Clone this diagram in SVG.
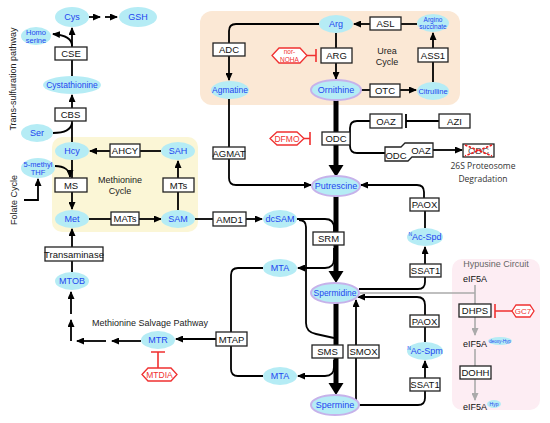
<svg xmlns="http://www.w3.org/2000/svg" width="550" height="423" viewBox="0 0 550 423">
<style>
text{font-family:"Liberation Sans",Arial,sans-serif;}
.bg{stroke:none}
.n ellipse{fill:#b5ecf5;stroke:none}
.n.p ellipse{stroke:#c6b2ea;stroke-width:2}
.n text{fill:#1f46f0;font-size:9px;text-anchor:middle;dominant-baseline:central}
.b rect{fill:#fff;stroke:#222;stroke-width:1.3}
.b text{fill:#111;font-size:9.5px;text-anchor:middle;dominant-baseline:central}
.c path{fill:none;stroke:#000;stroke-width:1.8}
.c path.a{marker-end:url(#ah)}
.c path.g{stroke:#aaa;stroke-width:1.6}
.c path.ga{stroke:#aaa;stroke-width:1.6;marker-end:url(#gh)}
.c path.t{stroke-width:5}
.c polygon{fill:#000}
.c path.r{stroke:#f03030;stroke-width:1.6}
.inh polygon{fill:#fff;stroke:#f03030;stroke-width:1.3}
.inh text{fill:#f03030;text-anchor:middle;dominant-baseline:central}
.lbl{fill:#222;font-size:9px}
</style>
<defs>
<marker id="ah" markerUnits="userSpaceOnUse" markerWidth="8" markerHeight="7" refX="7" refY="3.5" orient="auto"><path d="M0,0 L8,3.5 L0,7 z" fill="#000"/></marker>
<marker id="gh" markerUnits="userSpaceOnUse" markerWidth="8" markerHeight="7" refX="7" refY="3.5" orient="auto"><path d="M0,0 L8,3.5 L0,7 z" fill="#aaa"/></marker>
</defs>

<!-- backgrounds -->
<rect class="bg" x="200" y="11" width="260" height="94" rx="12" fill="#fbe8d5"/>
<rect class="bg" x="52" y="137" width="146" height="95" rx="10" fill="#fbf6d6"/>
<rect class="bg" x="452" y="259" width="88" height="151" rx="10" fill="#fdedf3"/>

<text class="lbl" x="387" y="54" text-anchor="middle" font-size="10">Urea</text>
<text class="lbl" x="387" y="65" text-anchor="middle" font-size="10">Cycle</text>
<text class="lbl" x="120" y="183" text-anchor="middle" font-size="9.5">Methionine</text>
<text class="lbl" x="120" y="194" text-anchor="middle" font-size="9.5">Cycle</text>
<text class="lbl" transform="translate(17,200) rotate(-90)" text-anchor="middle" font-size="9.5">Folate Cycle</text>
<text class="lbl" transform="translate(16,79) rotate(-90)" text-anchor="middle" font-size="9">Trans-sulfuration pathway</text>
<text class="lbl" x="92" y="326">Methionine Salvage Pathway</text>
<text class="lbl" x="496" y="267" text-anchor="middle" style="fill:#666">Hypusine Circuit</text>
<text x="483" y="169" text-anchor="middle" font-size="8.5" fill="#333" style="font-family:'Open Sans','Liberation Sans',sans-serif">26S Proteosome</text>
<text x="483" y="182" text-anchor="middle" font-size="8.5" fill="#333" style="font-family:'Open Sans','Liberation Sans',sans-serif">Degradation</text>

<!-- connectors -->
<g class="c" id="connectors">
<path class="a" d="M72,47 L72,28"/>
<path class="a" d="M72,46 C72,39 66,35 53,34"/>
<path d="M72,76 L72,59"/>
<path class="a" d="M72,108 L72,95"/>
<path d="M72,142 L72,121"/>
<path d="M53,133 C63,133 71,130 72,123"/>
<path class="a" d="M89,17 L100,17"/>
<path class="a" d="M105,17 L117,17"/>
<path d="M161,151 L140,151"/>
<path class="a" d="M110,151 L90,151"/>
<path d="M72,160 L72,178"/>
<path class="a" d="M55,166 C64,166 70,170 70,177"/>
<path class="a" d="M72,192 L72,209"/>
<path d="M89,219 L111,219"/>
<path class="a" d="M139,219 L161,219"/>
<path d="M178,210 L178,192"/>
<path class="a" d="M178,178 L178,161"/>
<path class="a" d="M24,200 L38,200 L38,179"/>
<path class="a" d="M72,247 L72,229"/>
<path d="M72,272 L72,261"/>
<path class="a" d="M71,341 L71,320"/>
<path class="a" d="M71,314 L71,292"/>
<path class="a" d="M141,341 L112,341"/>
<path class="a" d="M106,341 L77,341"/>
<path class="a" d="M216,339 L176,339"/>
<path class="r" d="M158,368 L158,352 M151,352 L165,352"/>
<path d="M263,268 L238,268 Q231,268 231,275 L231,332"/>
<path d="M231,346 L231,369 Q231,376 238,376 L263,376"/>
<path d="M195,219 L213,219"/>
<path class="a" d="M246,219 L262,219"/>
<!-- urea -->
<path d="M319,24 L236,24 Q229,24 229,31 L229,43"/>
<path class="a" d="M229,56 L229,80"/>
<path d="M229,99 L229,147"/>
<path class="a" d="M229,159 L229,178 Q229,185 236,185 L311,185"/>
<path d="M336,33 L336,48"/>
<path class="a" d="M336,63 L336,79"/>
<path class="a" d="M370,24 L354,24"/>
<path d="M417,24 L401,24"/>
<path d="M433,82 L433,62"/>
<path class="a" d="M433,48 L433,33"/>
<path d="M361,90 L370,90"/>
<path class="a" d="M400,90 L416,90"/>
<path class="r" d="M307,55.5 L316,55.5 M316,49 L316,62"/>
<path class="r" d="M304,138.5 L310,138.5 M310,132 L310,145"/>
<path d="M370,121 L357,121 Q350,121 350,128 L350,146 Q350,153 357,153 L386,153"/>
<path d="M439,121 L406,121 M406,114 L406,128"/>
<path class="a" d="M433,150 L462,150"/>
<!-- polyamines -->
<path class="t" d="M336,100 L336,167"/>
<polygon points="328.5,165 343.5,165 336,177"/>
<path class="t" d="M336,196 L336,273"/>
<polygon points="328.5,271 343.5,271 336,283"/>
<path class="t" d="M336,303 L336,385"/>
<polygon points="328.5,383 343.5,383 336,395"/>
<path class="a" d="M424,198 L424,192 Q424,185 417,185 L361,185"/>
<path d="M425,228 L425,211"/>
<path class="a" d="M425,264 L425,247"/>
<path d="M359,289 L418,289 Q425,289 425,282 L425,277"/>
<path d="M297,219 L325,219 Q334,219 334,228 L334,234"/>
<path class="a" d="M334,248 L334,259 Q334,268 325,268 L298,268"/>
<path d="M299,220 Q306,220 306,227 L306,323 Q306,332 316,334 L334,338"/>
<path class="a" d="M334,360 L334,367 Q334,376 325,376 L298,376"/>
<path class="a" d="M356,400 L356,300"/>
<path class="g" d="M360,293 L475,293"/>
<path class="a" d="M425,315 L425,305 Q425,297 417,297 L358,297"/>
<path d="M425,342 L425,327"/>
<path class="a" d="M425,378 L425,361"/>
<path d="M359,405 L418,405 Q425,405 425,398 L425,391"/>
<!-- hypusine -->
<path class="g" d="M475,285 L475,304"/>
<path class="ga" d="M475,317 L475,335"/>
<path class="g" d="M475,349 L475,366"/>
<path class="ga" d="M475,379 L475,400"/>
<path class="r" d="M495,311 L512,311 M495,304 L495,318"/>
</g>

<!-- nodes -->
<g class="n" id="cys"><ellipse cx="72" cy="17" rx="17" ry="10"/><text x="72" y="17">Cys</text></g>
<g class="n" id="gsh"><ellipse cx="138" cy="17" rx="19" ry="10"/><text x="138" y="17">GSH</text></g>
<g class="n" id="homoserine"><ellipse cx="36" cy="36" rx="15" ry="9"/><text x="36" y="32" style="font-size:7.5px">Homo</text><text x="36" y="40" style="font-size:7.5px">serine</text></g>
<g class="b" id="cse"><rect x="55" y="47" width="32" height="13"/><text x="71" y="53.5">CSE</text></g>
<g class="n" id="cystathionine"><ellipse cx="72" cy="85" rx="29" ry="9"/><text x="72" y="85" style="font-size:8.5px">Cystathionine</text></g>
<g class="b" id="cbs"><rect x="55" y="108" width="31" height="13"/><text x="70.5" y="114.5">CBS</text></g>
<g class="n" id="ser"><ellipse cx="37" cy="133" rx="16" ry="9"/><text x="37" y="133">Ser</text></g>
<g class="n" id="hcy"><ellipse cx="72" cy="151" rx="17" ry="9"/><text x="72" y="151">Hcy</text></g>
<g class="b" id="ahcy"><rect x="110" y="144" width="30" height="13"/><text x="125" y="150.5">AHCY</text></g>
<g class="n" id="sah"><ellipse cx="178" cy="151" rx="17" ry="9"/><text x="178" y="151">SAH</text></g>
<g class="n" id="mthf"><ellipse cx="38" cy="168" rx="17" ry="10"/><text x="38" y="164" style="font-size:7.5px">5-methyl</text><text x="38" y="172.5" style="font-size:7.5px">THF</text></g>
<g class="b" id="ms"><rect x="55" y="178" width="32" height="14"/><text x="71" y="185">MS</text></g>
<g class="b" id="mts"><rect x="163" y="178" width="31" height="14"/><text x="178.5" y="185">MTs</text></g>
<g class="n" id="met"><ellipse cx="72" cy="219" rx="17" ry="9"/><text x="72" y="219">Met</text></g>
<g class="b" id="mats"><rect x="111" y="212" width="28" height="13"/><text x="125" y="218.5">MATs</text></g>
<g class="n" id="sam"><ellipse cx="178" cy="219" rx="17" ry="9"/><text x="178" y="219">SAM</text></g>
<g class="b" id="transaminase"><rect x="45" y="247" width="58" height="14"/><text x="74" y="254">Transaminase</text></g>
<g class="n" id="mtob"><ellipse cx="72" cy="281" rx="17" ry="9"/><text x="72" y="281">MTOB</text></g>
<g class="n" id="mtr"><ellipse cx="158" cy="340" rx="17" ry="9"/><text x="158" y="340">MTR</text></g>
<g class="inh" id="mtdia"><polygon points="142,374.5 148,368 171,368 177,374.5 171,381 148,381"/><text x="159.5" y="374.5" font-size="8.5">MTDIA</text></g>
<g class="b" id="mtap"><rect x="216" y="332" width="31" height="14"/><text x="231.5" y="339">MTAP</text></g>
<g class="n" id="mta1"><ellipse cx="280" cy="268" rx="17" ry="9"/><text x="280" y="268">MTA</text></g>
<g class="n" id="mta2"><ellipse cx="280" cy="376" rx="17" ry="9"/><text x="280" y="376">MTA</text></g>
<g class="b" id="amd1"><rect x="213" y="212" width="33" height="14"/><text x="229.5" y="219">AMD1</text></g>
<g class="n" id="dcsam"><ellipse cx="280" cy="219" rx="17" ry="9"/><text x="280" y="219">dcSAM</text></g>

<g class="n" id="arg"><ellipse cx="336" cy="24" rx="17" ry="9"/><text x="336" y="24">Arg</text></g>
<g class="b" id="asl"><rect x="370" y="17" width="31" height="13"/><text x="385.5" y="23.5">ASL</text></g>
<g class="n" id="argsucc"><ellipse cx="433" cy="23" rx="16" ry="9"/><text x="433" y="19.5" style="font-size:6.5px">Argino</text><text x="433" y="26.5" style="font-size:6.5px">succinate</text></g>
<g class="b" id="ass1"><rect x="418" y="48" width="30" height="14"/><text x="433" y="55">ASS1</text></g>
<g class="n" id="citrulline"><ellipse cx="433" cy="91" rx="16" ry="9"/><text x="433" y="91" style="font-size:7.5px">Citrulline</text></g>
<g class="b" id="otc"><rect x="370" y="84" width="30" height="13"/><text x="385" y="90.5">OTC</text></g>
<g class="n p" id="ornithine"><ellipse cx="336" cy="90" rx="25" ry="10"/><text x="336" y="90">Ornithine</text></g>
<g class="b" id="argase"><rect x="321" y="48" width="31" height="15"/><text x="336.5" y="55.5">ARG</text></g>
<g class="inh" id="nornoha"><polygon points="272,55.5 279,48 300,48 307,55.5 300,63 279,63"/><text x="289.5" y="51.5" font-size="6.5">nor-</text><text x="289.5" y="59" font-size="6.5">NOHA</text></g>
<g class="b" id="adc"><rect x="213" y="43" width="32" height="13"/><text x="229" y="49.5">ADC</text></g>
<g class="n" id="agmatine"><ellipse cx="230" cy="90" rx="19" ry="9"/><text x="230" y="90" style="font-size:8.5px">Agmatine</text></g>
<g class="b" id="agmat"><rect x="213" y="147" width="32" height="12"/><text x="229" y="153">AGMAT</text></g>
<g class="b" id="odc"><rect x="322" y="132" width="28" height="13"/><text x="336" y="138.5">ODC</text></g>
<g class="inh" id="dfmo"><polygon points="270,138.5 277,132 297,132 304,138.5 297,145 277,145"/><text x="287" y="138.5" font-size="8.5">DFMO</text></g>
<g class="b" id="oaz"><rect x="370" y="114" width="32" height="14"/><text x="386" y="121">OAZ</text></g>
<g class="b" id="azi"><rect x="439" y="114" width="31" height="14"/><text x="454.5" y="121">AZI</text></g>
<g class="b" id="odcoaz"><path d="M385,147 L401,147 L405,143 L433,143 L433,157 L412,157 L408,161 L385,161 Z" fill="#fff" stroke="#222" stroke-width="1.3"/><text x="396" y="155">ODC</text><text x="421" y="150">OAZ</text></g>
<g class="b" id="odcdeg"><rect x="463" y="144" width="31" height="13"/><text x="478.5" y="150.5" style="fill:#555">ODC</text><path d="M465,145 L492,156 M492,145 L465,156" stroke="#f02020" stroke-width="1.5" stroke-dasharray="2.5,1.5" fill="none"/></g>

<g class="n p" id="putrescine"><ellipse cx="336" cy="186" rx="24" ry="10"/><text x="336" y="186">Putrescine</text></g>
<g class="b" id="paox1"><rect x="410" y="198" width="29" height="13"/><text x="424.5" y="204.5">PAOX</text></g>
<g class="n" id="acspd"><ellipse cx="425" cy="237" rx="18" ry="9"/><text x="425" y="237"><tspan font-size="5" dy="-3">N</tspan><tspan dy="3">Ac-Spd</tspan></text></g>
<g class="b" id="ssat1a"><rect x="410" y="264" width="31" height="13"/><text x="425.5" y="270.5">SSAT1</text></g>
<g class="b" id="srm"><rect x="313" y="232" width="31" height="13"/><text x="328.5" y="238.5">SRM</text></g>
<g class="n p" id="spermidine"><ellipse cx="335" cy="293" rx="24" ry="10"/><text x="335" y="293" style="font-size:8.5px">Spermidine</text></g>
<g class="b" id="sms"><rect x="312" y="345" width="31" height="13"/><text x="327.5" y="351.5">SMS</text></g>
<g class="b" id="smox"><rect x="348" y="345" width="31" height="13"/><text x="363.5" y="351.5">SMOX</text></g>
<g class="b" id="paox2"><rect x="410" y="315" width="29" height="12"/><text x="424.5" y="321">PAOX</text></g>
<g class="n" id="acspm"><ellipse cx="425" cy="351" rx="18" ry="9"/><text x="425" y="351"><tspan font-size="5" dy="-3">N</tspan><tspan dy="3">Ac-Spm</tspan></text></g>
<g class="b" id="ssat1b"><rect x="410" y="378" width="30" height="13"/><text x="425" y="384.5">SSAT1</text></g>
<g class="n p" id="spermine"><ellipse cx="335" cy="405" rx="24" ry="10"/><text x="335" y="405">Spermine</text></g>

<g id="eif5a"><text x="475" y="282" text-anchor="middle" font-size="9" fill="#111">eIF5A</text></g>
<g class="b" id="dhps"><rect x="459" y="304" width="32" height="13"/><text x="475" y="310.5">DHPS</text></g>
<g class="inh" id="gc7"><polygon points="512,311 516,305 530,305 534,311 530,317 516,317"/><text x="523" y="311" font-size="8">GC7</text></g>
<g id="eif5adhyp"><text x="463" y="347" font-size="9" fill="#111">eIF5A</text><ellipse cx="500" cy="341" rx="12" ry="4" fill="#b5ecf5"/><text x="500" y="341" font-size="4.5" fill="#1f46f0" text-anchor="middle" dominant-baseline="central">deoxy-Hyp</text></g>
<g class="b" id="dohh"><rect x="460" y="366" width="31" height="13"/><text x="475.5" y="372.5">DOHH</text></g>
<g id="eif5ahyp"><text x="463" y="410" font-size="9" fill="#111">eIF5A</text><ellipse cx="494" cy="404" rx="7" ry="4" fill="#b5ecf5"/><text x="494" y="404" font-size="5" fill="#1f46f0" text-anchor="middle" dominant-baseline="central">Hyp</text></g>
</svg>
